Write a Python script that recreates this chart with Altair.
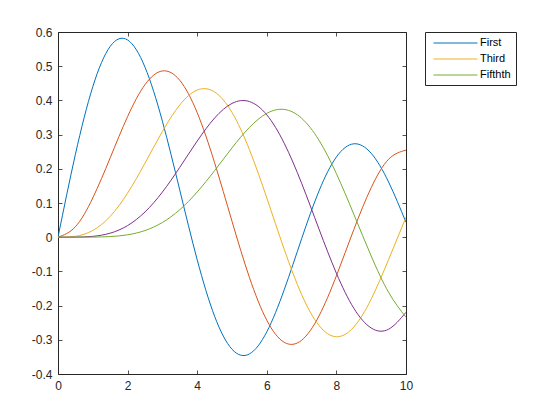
import altair as alt
import pandas as pd

x_vals = [0, 0.5, 1, 1.5, 2, 2.5, 3, 3.5, 4, 4.5, 5, 5.5, 6, 6.5, 7, 7.5, 8, 8.5, 9, 9.5, 10]
first = [0, 0.2423, 0.4401, 0.5579, 0.5767, 0.4971, 0.3391, 0.1374, -0.0660, -0.2311, -0.3276,
         -0.3414, -0.2767, -0.1538, -0.0047, 0.1352, 0.2346, 0.2731, 0.2453, 0.1613, 0.0435]
second = [0, 0.0306, 0.1149, 0.2321, 0.3528, 0.4461, 0.4861, 0.4586, 0.3641, 0.2178, 0.0466,
          -0.1173, -0.2429, -0.3074, -0.3014, -0.2303, -0.1130, 0.0223, 0.1448, 0.2279, 0.2546]
third = [0, 0.0026, 0.0196, 0.0610, 0.1289, 0.2166, 0.3091, 0.3868, 0.4302, 0.4247, 0.3648,
         0.2561, 0.1148, -0.0353, -0.1676, -0.2581, -0.2911, -0.2626, -0.1809, -0.0653, 0.0584]
fourth = [0, 0.0002, 0.0025, 0.0118, 0.0340, 0.0738, 0.1320, 0.2044, 0.2811, 0.3484, 0.3912,
          0.3967, 0.3576, 0.2748, 0.1578, 0.0238, -0.1054, -0.2077, -0.2655, -0.2691, -0.2196]
fifth = [0, 0.0000, 0.0003, 0.0018, 0.0070, 0.0195, 0.0430, 0.0804, 0.1321, 0.1947, 0.2611,
         0.3209, 0.3621, 0.3736, 0.3479, 0.2835, 0.1858, 0.0671, -0.0550, -0.1613, -0.2341]

series_names = ["First", "Second", "Third", "Fourth", "Fifthth"]
legend_names = ["First", "Third", "Fifthth"]
series_colors = ["#0072BD", "#D95319", "#EDB120", "#7E2F8E", "#77AC30"]
x_ticks = [0, 2, 4, 6, 8, 10]
y_ticks = [-0.4, -0.3, -0.2, -0.1, 0, 0.1, 0.2, 0.3, 0.4, 0.5, 0.6]

rows = []
for name, ys in zip(series_names, [first, second, third, fourth, fifth]):
    for xv, yv in zip(x_vals, ys):
        rows.append({"x": xv, "y": yv, "series": name})
df = pd.DataFrame(rows)

W, H = 348, 342
AX = "#262626"
FONT = "Liberation Sans"

xscale = alt.Scale(domain=[0, 10], nice=False, zero=False)
yscale = alt.Scale(domain=[-0.4, 0.6], nice=False, zero=False)

label_expr = "'' + datum.value"

# main lines with labelled axes (bottom/left)
lines = alt.Chart(df).mark_line(strokeWidth=1, interpolate="natural", clip=True).encode(
    x=alt.X("x:Q", scale=xscale, title=None,
            axis=alt.Axis(orient="bottom", values=x_ticks, ticks=False, tickSize=0, domain=False,
                          grid=False, labelPadding=6, labelExpr=label_expr,
                          labelFlush=False, labelOverlap=False)),
    y=alt.Y("y:Q", scale=yscale, title=None,
            axis=alt.Axis(orient="left", values=y_ticks, ticks=False, tickSize=0, domain=False,
                          grid=False, labelPadding=6, labelExpr=label_expr,
                          labelFlush=False, labelOverlap=False)),
    color=alt.Color("series:N",
                    scale=alt.Scale(domain=series_names, range=series_colors),
                    legend=alt.Legend(values=legend_names, title=None, orient="none",
                                      legendX=367, legendY=0,
                                      symbolType="M-0.4545,0H7.545", symbolSize=121,
                                      symbolStrokeWidth=1, labelOffset=38,
                                      labelFont=FONT, labelFontSize=11, labelColor="#000000",
                                      strokeColor=AX, fillColor="#ffffff", padding=5,
                                      rowPadding=5)),
    detail="series:N",
)

# inward ticks on bottom and left edges
ticks_a = alt.Chart(df).mark_point(opacity=0).encode(
    x=alt.X("x:Q", scale=xscale, title=None,
            axis=alt.Axis(orient="top", offset=-H, values=x_ticks, labels=False, domain=False,
                          grid=False, tickSize=4, tickColor=AX, tickWidth=0.8)),
    y=alt.Y("y:Q", scale=yscale, title=None,
            axis=alt.Axis(orient="right", offset=-W, values=y_ticks, labels=False, domain=False,
                          grid=False, tickSize=4, tickColor=AX, tickWidth=0.8)),
)

# inward ticks on top and right edges
ticks_b = alt.Chart(df).mark_point(opacity=0).encode(
    x=alt.X("x:Q", scale=xscale, title=None,
            axis=alt.Axis(orient="bottom", offset=-H, values=x_ticks, labels=False, domain=False,
                          grid=False, tickSize=4, tickColor=AX, tickWidth=0.8)),
    y=alt.Y("y:Q", scale=yscale, title=None,
            axis=alt.Axis(orient="left", offset=-W, values=y_ticks, labels=False, domain=False,
                          grid=False, tickSize=4, tickColor=AX, tickWidth=0.8)),
)

chart = alt.layer(lines, ticks_a, ticks_b).resolve_axis(
    x="independent", y="independent"
).properties(
    width=W, height=H,
    autosize=alt.AutoSizeParams(type="none"),
    padding={"left": 50, "top": 24, "right": 146, "bottom": 38},
    background="#ffffff",
).configure_view(
    stroke=AX, strokeWidth=1
).configure_axis(
    labelFont=FONT, labelFontSize=12, labelColor=AX
)

chart.save("out.html", embed_options={"renderer": "svg", "actions": False})
